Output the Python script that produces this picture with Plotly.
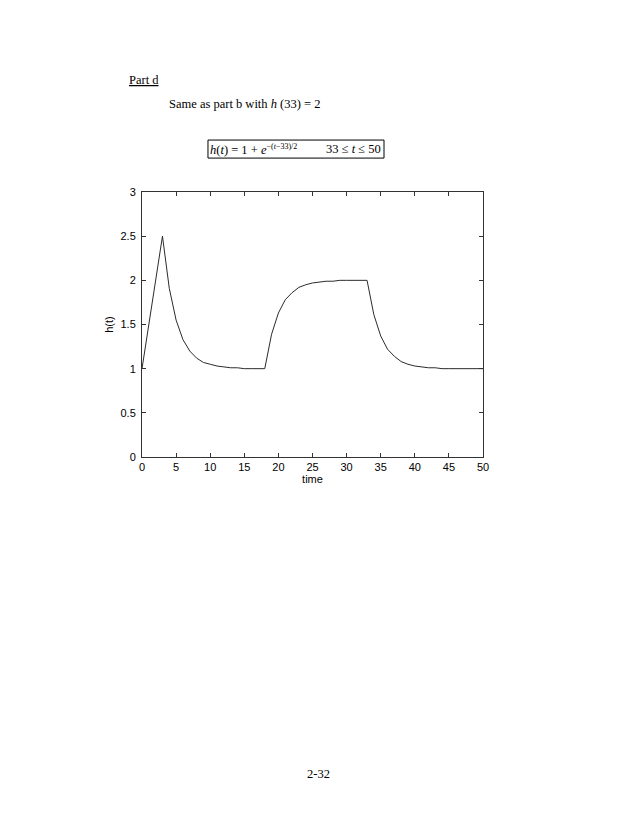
import plotly.graph_objs as go

# values, one sample per time unit
time = list(range(0, 51))
h = [1.0, 1.5, 2.0, 2.5, 1.91, 1.55, 1.33, 1.2, 1.12, 1.07,
     1.05, 1.03, 1.02, 1.01, 1.01, 1.0, 1.0, 1.0, 1.0, 1.39,
     1.63, 1.78, 1.86, 1.92, 1.95, 1.97, 1.98, 1.99, 1.99, 2.0,
     2.0, 2.0, 2.0, 2.0, 1.61, 1.37, 1.22, 1.14, 1.08, 1.05,
     1.03, 1.02, 1.01, 1.01, 1.0, 1.0, 1.0, 1.0, 1.0, 1.0, 1.0]

x_ticks = [0, 5, 10, 15, 20, 25, 30, 35, 40, 45, 50]
y_ticks = [0, 0.5, 1, 1.5, 2, 2.5, 3]

serif = dict(family="Liberation Serif, Times New Roman, serif", size=12.5, color="black")
sans = dict(family="Liberation Sans, Arial, sans-serif", size=11, color="black")

fig = go.Figure(
    data=[
        go.Scatter(x=time, y=h, mode="lines",
                   line=dict(color="#2b2b2b", width=1), showlegend=False)
    ]
)

axis_style = dict(showline=True, linecolor="#333", linewidth=1, mirror="allticks",
                  ticks="inside", ticklen=4, tickcolor="#333", showgrid=False,
                  zeroline=False, tickfont=sans, automargin=True)

fig.update_xaxes(range=[0, 50], tickvals=x_ticks,
                 title=dict(text="time", font=sans, standoff=3), **axis_style)
fig.update_yaxes(range=[0, 3], tickvals=y_ticks, ticklabelstandoff=3,
                 title=dict(text="h(t)", font=sans, standoff=4), **axis_style)

# boxed equation
fig.add_shape(type="rect", xref="paper", yref="paper",
              x0=0.1935, x1=0.7097, y0=1.128, y1=1.196,
              line=dict(color="black", width=1))

notes = [
    dict(text="<u>Part d</u>", x=-0.045, y=1.4226, xanchor="left"),
    dict(text="Same as part b with <i>h</i> (33) = 2", x=0.072, y=1.332, xanchor="left"),
    dict(text="<i>h</i>(<i>t</i>) = 1 + <i>e</i><sup><span style='font-size:8px'>"
              "−(<i>t</i>−33)/2</span></sup>",
         x=0.195, y=1.162, xanchor="left"),
    dict(text="33 ≤ <i>t</i> ≤ 50", x=0.707, y=1.162, xanchor="right"),
    dict(text="2-32", x=0.519, y=-1.196, xanchor="center"),
]
for n in notes:
    fig.add_annotation(xref="paper", yref="paper", yanchor="middle",
                       showarrow=False, font=serif, **n)

# page body adds an 8px offset, so margins are shifted to compensate
fig.update_layout(
    width=638,
    height=826,
    paper_bgcolor="white",
    plot_bgcolor="white",
    margin=dict(l=134, r=163, t=184, b=377),
)

fig.write_html("out.html")
